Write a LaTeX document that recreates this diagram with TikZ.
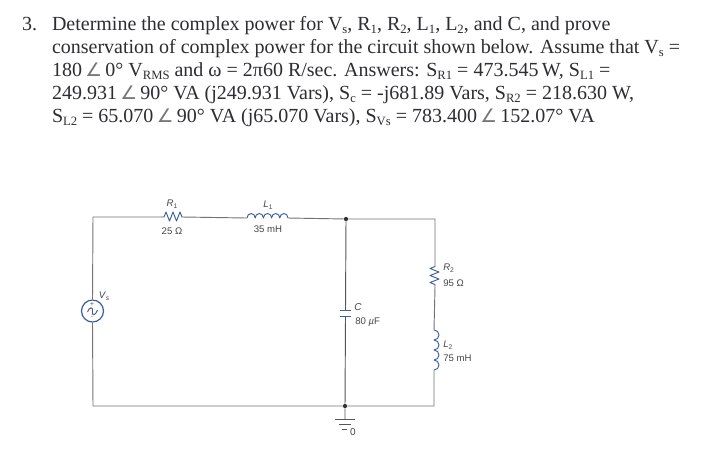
\documentclass[tikz,border=0pt]{standalone}
\usepackage{fontspec}
\setmainfont{Liberation Serif}
\setsansfont{Liberation Sans}
\newfontfamily\symfont{DejaVu Sans}
\definecolor{ink}{RGB}{45,45,50}
\definecolor{wire}{RGB}{115,115,115}
\definecolor{comp}{RGB}{60,95,160}
\definecolor{lab}{RGB}{70,70,75}
\newcommand{\dn}[1]{\raisebox{-0.35ex}{\fontsize{9.5}{11}\selectfont #1}}
\newcommand{\ang}{{\symfont\fontsize{14}{15}\selectfont\textcolor{ink!65}{∠}}}
\usetikzlibrary{calc}
\tikzset{
  txt/.style={anchor=base west,inner sep=0pt,outer sep=0pt,text=ink,font=\fontsize{15}{18}\selectfont},
  wireline/.style={draw=wire,line width=0.7pt},
  compline/.style={draw=comp,line width=0.7pt,line join=round},
  clab/.style={inner sep=0pt,text=lab,font=\sffamily\fontsize{7.2}{8}\selectfont},
  dot/.style={circle,fill=black!80,inner sep=0pt,minimum size=3.2pt}
}
\begin{document}
\begin{tikzpicture}[x=0.75pt,y=-0.75pt]
\useasboundingbox (0,0) rectangle (712,462);
\fill[white] (0,0) rectangle (712,462);
\node[txt] (num) at (22,30) {3.};
\node[txt] (l1) at (52,30) {Determine the complex power for V\dn{s}, R\dn{1}, R\dn{2}, L\dn{1}, L\dn{2}, and C, and prove};
\node[txt] (l2) at (52,53) {conservation of complex power for the circuit shown below. Assume that V\dn{s} =};
\node[txt] (l3) at (52,76) {180\,\ang\,0° V\dn{RMS} and ω = 2π60 R/sec. Answers: S\dn{R1} = 473.545\,W, S\dn{L1} =};
\node[txt] (l4) at (52,99) {249.931\,\ang\,90° VA (j249.931 Vars), S\dn{c} = -j681.89 Vars, S\dn{R2} = 218.630 W,};
\node[txt] (l5) at (52,122) {S\dn{L2} = 65.070\,\ang\,90° VA (j65.070 Vars), S\dn{Vs} = 783.400\,\ang\,152.07° VA};

% named points
\coordinate (tl) at (93,217);
\coordinate (r1a) at (161,217);
\coordinate (r1b) at (183,217);
\coordinate (l1a) at (247,218);
\coordinate (l1b) at (288,218);
\node[dot] (jt) at (346,219) {};
\coordinate (tr) at (435,219);
\coordinate (r2a) at (435,265);
\coordinate (r2b) at (435,287);
\coordinate (l2a) at (434,330);
\coordinate (l2b) at (434,370);
\coordinate (br) at (434,406);
\node[dot] (jb) at (345,406) {};
\coordinate (bl) at (93,406);
\node[circle,draw=comp,line width=0.9pt,minimum size=16.5pt,inner sep=0pt] (vs) at (92.5,311) {};
\coordinate (c1) at (345.5,310);
\coordinate (c2) at (345.5,316);
\coordinate (g) at (345,419);

% wires
\draw[wireline] (vs.north) -- (tl) -- (r1a);
\draw[wireline] (r1b) -- (l1a);
\draw[wireline] (l1b) -- (jt) -- (tr) -- (r2a);
\draw[wireline] (r2b) -- (l2a);
\draw[wireline] (l2b) -- (br) -- (jb) -- (bl) -- (vs.south);
\draw[wireline,draw=wire!75!black] (jt) -- (c1);
\draw[wireline,draw=wire!75!black] (c2) -- (jb) -- (g);

% resistors
\draw[compline] (r1a) -- ++(3,0) -- ++(2,-5) -- ++(3.5,9) -- ++(3.5,-9) -- ++(3.5,9) -- ++(3.5,-9) -- ++(2,5) -- (r1b);
\draw[compline] (r2a) -- ++(0,1.5) -- ++(-5,2) -- ++(9,3.5) -- ++(-9,3.5) -- ++(9,3.5) -- ++(-9,3.5) -- ++(5,2) -- (r2b);
% inductors
\draw[compline] (l1a) arc[start angle=180,end angle=360,x radius=4.1,y radius=4.5]
  arc[start angle=180,end angle=360,x radius=4.1,y radius=4.5] arc[start angle=180,end angle=360,x radius=4.1,y radius=4.5]
  arc[start angle=180,end angle=360,x radius=4.1,y radius=4.5] arc[start angle=180,end angle=360,x radius=4.1,y radius=4.5];
\draw[compline] (l2a) arc[start angle=-90,end angle=90,x radius=5,y radius=5]
  arc[start angle=-90,end angle=90,x radius=5,y radius=5] arc[start angle=-90,end angle=90,x radius=5,y radius=5]
  arc[start angle=-90,end angle=90,x radius=5,y radius=5];
% capacitor
\draw[compline] ($(c1)+(-5.5,0)$) -- ($(c1)+(5.5,0)$);
\draw[compline] ($(c2)+(-5.5,0)$) -- ($(c2)+(5.5,0)$);
% ground
\draw[wireline,draw=wire!75!black] ($(g)+(-10,0)$) -- ($(g)+(10,0)$);
\draw[wireline,draw=wire!75!black] ($(g)+(-6,5)$) -- ($(g)+(6,5)$);
\draw[wireline,draw=wire!75!black] ($(g)+(-3,10)$) -- ($(g)+(2,10)$);
% source glyph
\draw[comp,line width=0.7pt] ($(vs)+(-5,1)$) .. controls ($(vs)+(-3,-5)$) and ($(vs)+(1,-4)$) .. ($(vs)+(0,0.5)$) .. controls ($(vs)+(-1,5)$) and ($(vs)+(3,5)$) .. ($(vs)+(5,-1)$);
\node[clab,font=\sffamily\fontsize{5}{5}\selectfont] (vp) at (92,304.5) {+};
\node[clab,font=\sffamily\fontsize{5}{5}\selectfont] (vm) at (92,317.5) {-};

% labels
\node[clab] (vlab) at (104,296) {\textit{V}\raisebox{-0.3ex}{\fontsize{5}{5}\selectfont\textit{s}}};
\node[clab] (r1l) at (172,204) {\textit{R}\raisebox{-0.3ex}{\fontsize{5}{5}\selectfont 1}};
\node[clab] (r1v) at (172,231) {25 Ω};
\node[clab] (l1l) at (268,205) {\textit{L}\raisebox{-0.3ex}{\fontsize{5}{5}\selectfont 1}};
\node[clab] (l1v) at (268,229) {35 mH};
\node[clab,font=\sffamily\fontsize{7.5}{8}\selectfont] (cl) at (358,307) {\textit{C}};
\node[clab,anchor=west] (cv) at (355,322) {80 \textit{µ}F};
\node[clab,anchor=west] (r2l) at (443,268) {\textit{R}\raisebox{-0.3ex}{\fontsize{5}{5}\selectfont 2}};
\node[clab,anchor=west] (r2v) at (443,283) {95 Ω};
\node[clab,anchor=west] (l2l) at (443,345) {\textit{L}\raisebox{-0.3ex}{\fontsize{5}{5}\selectfont 2}};
\node[clab,anchor=west] (l2v) at (443,358) {75 mH};
\node[clab,font=\sffamily\fontsize{7.5}{8}\selectfont] (gl) at (353,432) {0};
\end{tikzpicture}
\end{document}
